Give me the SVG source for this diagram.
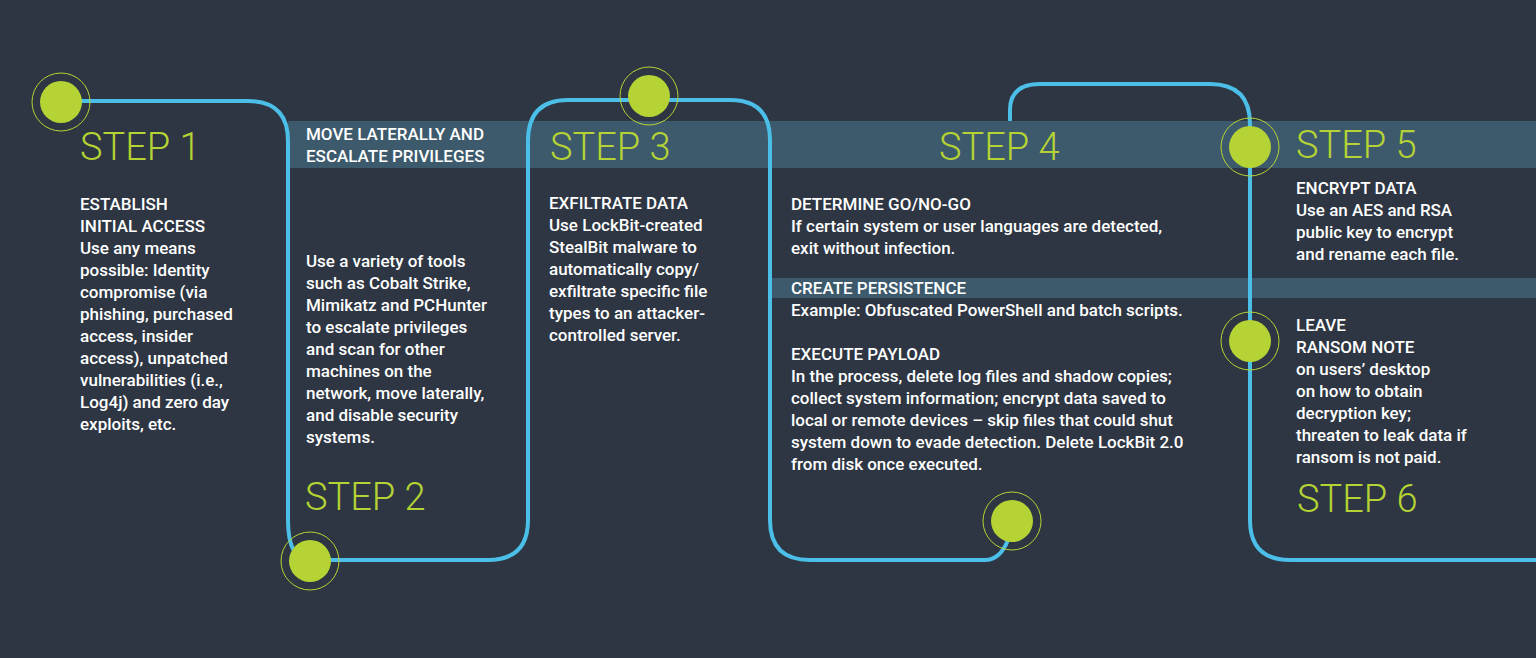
<svg xmlns="http://www.w3.org/2000/svg" width="1536" height="658" viewBox="0 0 1536 658">
<style>
.t{font-family:Roboto,"Liberation Sans",sans-serif;font-size:17px;fill:#fff;font-weight:500}
.s{font-family:Roboto,"Liberation Sans",sans-serif;font-size:38px;fill:#b5d334;font-weight:300}
.ln{fill:none;stroke:#4cbfe9;stroke-width:4}
.dot{fill:#b5d334}
.ring{fill:none;stroke:#b5d334;stroke-width:1}
</style>
<rect width="1536" height="658" fill="#2d3642"/>
<rect x="288" y="121" width="1248" height="47" fill="#3d5a6c"/>
<rect x="770" y="278" width="766" height="20" fill="#3d5a6c"/>
<g id="connectors">
<path class="ln" d="M61 101 H248 Q288 101 288 141 V520 Q288 560 310 560 H488 Q528 560 528 520 V141 Q528 100 568 100 H730 Q770 100 770 140 V520 Q770 560 810 560 H985 Q1000 560 1008 540 L1012 521"/>
<path class="ln" d="M1010 121 V110 Q1010 84 1040 84 H1210 Q1250 84 1250 124 V520 Q1250 560 1290 560 H1536"/>
</g>
<g id="c1"><circle class="ring" cx="61" cy="102" r="29"/><circle class="dot" cx="61" cy="102" r="21"/></g>
<g id="c2"><circle class="ring" cx="310" cy="561" r="29"/><circle class="dot" cx="310" cy="561" r="21"/></g>
<g id="c3"><circle class="ring" cx="649" cy="96" r="29"/><circle class="dot" cx="649" cy="96" r="21"/></g>
<g id="c4"><circle class="ring" cx="1012" cy="521" r="29"/><circle class="dot" cx="1012" cy="521" r="21"/></g>
<g id="c5"><circle class="ring" cx="1250" cy="147" r="29"/><circle class="dot" cx="1250" cy="147" r="21"/></g>
<g id="c6"><circle class="ring" cx="1250" cy="341" r="29"/><circle class="dot" cx="1250" cy="341" r="21"/></g>
<g id="step1"><text class="s" x="80" y="160">STEP 1</text>
<text class="t" x="80" y="210">ESTABLISH<tspan x="80" dy="22">INITIAL ACCESS</tspan><tspan x="80" dy="22">Use any means</tspan><tspan x="80" dy="22">possible: Identity</tspan><tspan x="80" dy="22">compromise (via</tspan><tspan x="80" dy="22">phishing, purchased</tspan><tspan x="80" dy="22">access, insider</tspan><tspan x="80" dy="22">access), unpatched</tspan><tspan x="80" dy="22">vulnerabilities (i.e.,</tspan><tspan x="80" dy="22">Log4j) and zero day</tspan><tspan x="80" dy="22">exploits, etc.</tspan></text></g>
<g id="step2"><text class="t" x="306" y="140">MOVE LATERALLY AND<tspan x="306" dy="22">ESCALATE PRIVILEGES</tspan></text>
<text class="t" x="306" y="267">Use a variety of  tools<tspan x="306" dy="22">such as Cobalt Strike,</tspan><tspan x="306" dy="22">Mimikatz and PCHunter</tspan><tspan x="306" dy="22">to escalate privileges</tspan><tspan x="306" dy="22">and scan for other</tspan><tspan x="306" dy="22">machines on the</tspan><tspan x="306" dy="22">network, move laterally,</tspan><tspan x="306" dy="22">and disable security</tspan><tspan x="306" dy="22">systems.</tspan></text>
<text class="s" x="305" y="510">STEP 2</text></g>
<g id="step3"><text class="s" x="550" y="160">STEP 3</text>
<text class="t" x="549" y="209">EXFILTRATE DATA<tspan x="549" dy="22">Use LockBit-created</tspan><tspan x="549" dy="22">StealBit malware to</tspan><tspan x="549" dy="22">automatically copy/</tspan><tspan x="549" dy="22">exfiltrate specific file</tspan><tspan x="549" dy="22">types to an attacker-</tspan><tspan x="549" dy="22">controlled server.</tspan></text></g>
<g id="step4"><text class="s" x="939" y="160">STEP 4</text>
<text class="t" x="791" y="210">DETERMINE GO/NO-GO<tspan x="791" dy="22">If certain system or user languages are detected,</tspan><tspan x="791" dy="22">exit without infection.</tspan></text>
<text class="t" x="791" y="294">CREATE PERSISTENCE<tspan x="791" dy="22">Example:  Obfuscated PowerShell and batch scripts.</tspan></text>
<text class="t" x="791" y="360">EXECUTE PAYLOAD<tspan x="791" dy="22">In the process, delete log files and shadow copies;</tspan><tspan x="791" dy="22">collect system information; encrypt data saved to</tspan><tspan x="791" dy="22">local or remote devices – skip files that could shut</tspan><tspan x="791" dy="22">system down to evade detection. Delete LockBit 2.0</tspan><tspan x="791" dy="22">from disk once executed.</tspan></text></g>
<g id="step5"><text class="s" x="1296" y="158">STEP 5</text>
<text class="t" x="1296" y="194">ENCRYPT DATA<tspan x="1296" dy="22">Use an AES and RSA</tspan><tspan x="1296" dy="22">public key to encrypt</tspan><tspan x="1296" dy="22">and rename each file.</tspan></text></g>
<g id="step6"><text class="t" x="1296" y="331">LEAVE<tspan x="1296" dy="22">RANSOM NOTE</tspan><tspan x="1296" dy="22">on users’ desktop</tspan><tspan x="1296" dy="22">on how to obtain</tspan><tspan x="1296" dy="22">decryption key;</tspan><tspan x="1296" dy="22">threaten to leak data if</tspan><tspan x="1296" dy="22">ransom is not paid.</tspan></text>
<text class="s" x="1297" y="512">STEP 6</text></g>
</svg>
